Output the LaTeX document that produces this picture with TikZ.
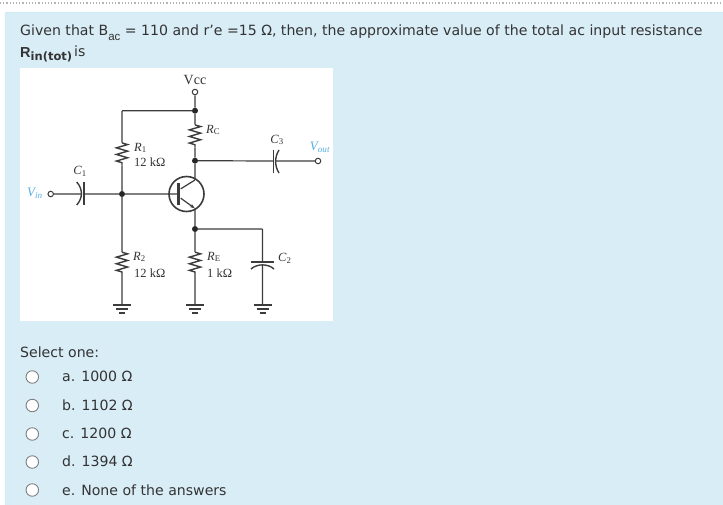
\documentclass[tikz,border=0pt]{standalone}
\usepackage{fontspec}
\setmainfont{DejaVu Sans}
\newfontfamily\circfont{Liberation Serif}
\newfontfamily\boldfont{Liberation Sans}
\usetikzlibrary{positioning, arrows.meta, decorations.pathmorphing}
\definecolor{panelblue}{RGB}{217,237,247}
\definecolor{paneledge}{RGB}{188,228,240}
\definecolor{textgray}{RGB}{51,51,51}
\definecolor{wiregray}{RGB}{60,60,60}
\definecolor{vblue}{RGB}{85,175,225}
\tikzset{
wire/.style={draw=wiregray, line width=1.2pt}, % all the connecting lines
res/.style={wire, line width=1.4pt, line join=miter, decorate, decoration={zigzag, segment length=6.6pt, amplitude=5.6pt}},
plate/.style={wire, line width=1.4pt},
term/.style={circle, draw=wiregray, fill=white, line width=1pt, inner sep=0pt, minimum size=5.5pt},
junc/.style={circle, fill=black!85, inner sep=0pt, minimum size=6pt},
pt/.style={inner sep=0pt, minimum size=0pt},
clabel/.style={inner sep=0pt, text=black!80, font=\circfont\fontsize{12.5}{13}\selectfont},
vlabel/.style={inner sep=0pt, text=vblue, font=\circfont\itshape\fontsize{13}{14}\selectfont},
qtext/.style={inner sep=0pt, anchor=base west, text=textgray, font=\fontsize{14.1}{16}\selectfont},
radio/.style={circle, draw=black!50, fill=white, line width=0.9pt, inner sep=0pt, minimum size=12.5pt},
gnd/.pic={
  \draw[wiregray, line width=1.8pt] (-9,0) -- (9,0);
  \draw[wiregray, line width=1.8pt] (-6,-4) -- (6,-4);
  \draw[wiregray, line width=1.8pt] (-3,-8) -- (3,-8);
}
}
\begin{document}
\begin{tikzpicture}[x=1pt, y=1pt]
      \useasboundingbox (0,0) rectangle (723,-504);
      \draw[black!30, dotted, line width=1.2pt] (0,-3) -- (723,-3);
      \draw[draw=paneledge, fill=panelblue, rounded corners=2pt] (5,-12) rectangle (730,-510);
      \fill[white] (20,-68) rectangle (333,-321);

      % question
      \node[qtext] (q1) at (20,-35) {Given that B\raisebox{-0.7ex}{\boldfont\fontsize{11.5}{12}\selectfont ac} = 110 and r’e =15 Ω, then, the approximate value of the total ac input resistance};
      \node[qtext] (q2) at (20,-57) {\boldfont\bfseries\fontsize{14.5}{16}\selectfont R\raisebox{-0.5ex}{\normalfont\bfseries\fontsize{11.5}{12}\selectfont in(tot)}\hspace{2pt}\normalfont\fontsize{14.1}{16}\selectfont\raisebox{1pt}{is}};

      % top rail
      \node[term] (vcc) at (195,-92) {};
      \node[clabel, font=\circfont\fontsize{14}{15}\selectfont, above of=vcc, node distance=12pt] (vcclabel) {Vcc};
      \node[junc, below of=vcc, node distance=18.7pt] (jtop) {};
      \node[pt] (r1corner) at (122,-110.7) {};
      \node[pt, below of=r1corner, node distance=32pt] (r1a) {};
      \node[pt, below of=r1a, node distance=23pt] (r1b) {};
      \node[junc] (jbase) at (122,-194) {};
      \node[pt, below of=jtop, node distance=14pt] (rca) {};
      \node[pt, below of=rca, node distance=23pt] (rcb) {};
      \node[junc] (jcol) at (195,-160.7) {};

      % transistor
      \node[circle, draw=wiregray, line width=1.6pt, inner sep=0pt, minimum size=35pt] (q) at (186.5,-194) {};
      \node[pt] (qbarA) at (178.5,-183) {};
      \node[pt] (qbarB) at (178.5,-205) {};
      \node[pt] (qbase) at (178.5,-194) {};
      \node[pt] (qc) at (180.5,-189) {};
      \node[pt] (qe) at (180.5,-198) {};
      \node[pt] (qcout) at (195,-180) {};
      \node[pt] (qeout) at (195,-208.5) {};
      \node[junc] (jem) at (195,-229) {};

      % lower resistors
      \node[pt] (r2a) at (122,-252) {};
      \node[pt, below of=r2a, node distance=22pt] (r2b) {};
      \node[pt] (g2) at (122,-305) {};
      \node[pt] (rea) at (195,-252) {};
      \node[pt, below of=rea, node distance=22pt] (reb) {};
      \node[pt] (ge) at (195,-305) {};
      \node[pt] (c2corner) at (262.5,-229) {};
      \node[pt] (c2a) at (262.5,-262) {};
      \node[pt] (c2b) at (262.5,-265) {};
      \node[pt] (gc) at (262.5,-305) {};

      % input and output
      \node[term] (vin) at (50.7,-194) {};
      \node[pt] (c1a) at (81.7,-194) {};
      \node[pt] (c1b) at (84,-194) {};
      \node[term] (vout) at (318,-161) {};
      \node[pt] (c3a) at (273.3,-161) {};
      \node[pt] (c3b) at (276,-161) {};

      \draw[wire] (vcc) -- (jtop) -- (rca)
      (jtop) -- (r1corner) -- (r1a)
      (r1b) -- (jbase)
      (rcb) -- (jcol) -- (qcout)
      (jcol) -- (c3a)
      (c3b) -- (vout)
      (vin) -- (c1a)
      (c1b) -- (jbase) -- (qbase)
      (qc) -- (qcout)
      (qeout) -- (jem) -- (rea)
      (jem) -- (c2corner) -- (c2a)
      (c2b) -- (gc)
      (jbase) -- (r2a)
      (r2b) -- (g2)
      (reb) -- (ge);
      \draw[-{Stealth[length=5pt,width=3.5pt]}, wire] (qe) -- (qeout);
      \draw[wire, line width=3pt] (qbarA) -- (qbarB);
      \draw[res] (r1a) -- (r1b);
      \draw[res] (rca) -- (rcb);
      \draw[res] (r2a) -- (r2b);
      \draw[res] (rea) -- (reb);

      % capacitor plates
      \draw[plate] (84,-182) -- (84,-205);
      \draw[plate] (76.7,-182) .. controls (83,-189) and (83,-198) .. (76.7,-205);
      \draw[plate] (273.3,-150) -- (273.3,-173);
      \draw[plate] (279,-150) .. controls (274.5,-157) and (274.5,-166) .. (279,-173);
      \draw[plate] (251,-262) -- (274,-262);
      \draw[plate] (251,-269) .. controls (257,-263.5) and (268,-263.5) .. (274,-269);

      \pic at (g2) {gnd};
      \pic at (ge) {gnd};
      \pic at (gc) {gnd};

      % circuit labels
      \node[clabel, anchor=west] (r1label) at (134,-148) {\textit{R}\textsubscript{1}};
      \node[clabel, anchor=west] (r1val) at (134,-162) {12 kΩ};
      \node[clabel, anchor=west] (rclabel) at (206,-130) {\textit{R}\textsubscript{C}};
      \node[clabel] (c1label) at (80,-171) {\textit{C}\textsubscript{1}};
      \node[clabel] (c3label) at (277,-140) {\textit{C}\textsubscript{3}};
      \node[clabel, anchor=west] (r2label) at (133,-257) {\textit{R}\textsubscript{2}};
      \node[clabel, anchor=west] (r2val) at (134,-273) {12 kΩ};
      \node[clabel, anchor=west] (relabel) at (207,-257) {\textit{R}\textsubscript{E}};
      \node[clabel, anchor=west] (reval) at (207,-273) {1 kΩ};
      \node[clabel, anchor=west] (c2label) at (278,-258) {\textit{C}\textsubscript{2}};
      \node[vlabel] (vinlabel) at (35,-193) {V\textsubscript{in}};
      \node[vlabel] (voutlabel) at (320,-147) {V\textsubscript{out}};

      % answers
      \node[qtext] (select) at (20,-357) {Select one:};
      \node[radio] (ra) at (32.3,-377) {};
      \node[radio] (rb) at (32.3,-405.5) {};
      \node[radio] (rc) at (32.3,-434) {};
      \node[radio] (rd) at (32.3,-462) {};
      \node[radio] (re) at (32.3,-490) {};
      \node[qtext] (aa) at (62,-381) {a. 1000 Ω};
      \node[qtext] (ab) at (62,-410) {b. 1102 Ω};
      \node[qtext] (ac) at (62,-438) {c. 1200 Ω};
      \node[qtext] (ad) at (62,-466) {d. 1394 Ω};
      \node[qtext] (ae) at (62,-495) {e. None of the answers};
    \end{tikzpicture}
\end{document}
